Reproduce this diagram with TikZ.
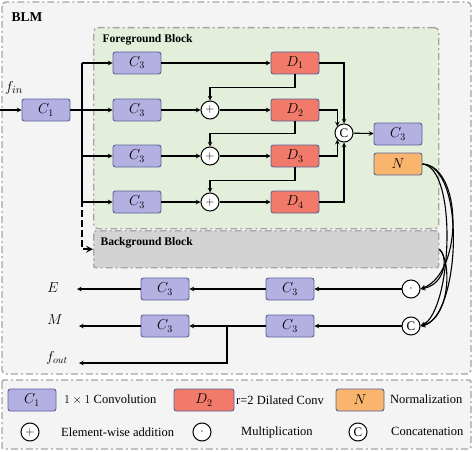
\documentclass[tikz,border=0pt]{standalone}
\usepackage{fontspec}
\setmainfont{Liberation Serif}
\usetikzlibrary{calc}
\definecolor{convfill}{RGB}{180,176,226}
\definecolor{boxline}{RGB}{88,98,150}
\definecolor{dilfill}{RGB}{242,122,106}
\definecolor{normfill}{RGB}{249,180,110}
\definecolor{fgfill}{RGB}{227,239,218}
\definecolor{bgfill}{RGB}{211,211,211}
\definecolor{blmfill}{RGB}{244,244,244}
\definecolor{frame}{RGB}{165,165,165}

\begin{document}
\begin{tikzpicture}[
        x = 1pt, y = -1pt,
        >=stealth,
        block/.style = {draw=boxline, fill=convfill, rounded corners=2.5pt, line width=0.9pt,
            minimum width=48pt, minimum height=22pt, inner sep=0pt, font=\fontsize{14}{16}\selectfont},
        dilated/.style = {block, fill=dilfill},
        normal/.style = {block, fill=normfill},
        oper/.style = {circle, draw, fill=white, line width=1pt, minimum size=18pt, inner sep=0pt,
            font=\fontsize{13}{15}\selectfont},
        flow/.style = {->, line width=1.1pt},
        region/.style = {draw=frame, line width=1.4pt, dash pattern=on 7pt off 3pt on 2pt off 3pt,
            rounded corners=4pt},
        title/.style = {anchor=west, font=\fontsize{11.6}{14}\selectfont\bfseries},
        legtext/.style = {anchor=west, inner sep=0pt, font=\fontsize{12.5}{14}\selectfont},
		]
        \useasboundingbox (0,0) rectangle (474,452);

        % BLM frame and legend frame
        \draw[region, fill=blmfill] (2,2) rectangle (471,374);
        \draw[region, fill=blmfill, rounded corners=2pt] (2,380) rectangle (471,449);
        \node[title, font=\fontsize{13.5}{15}\selectfont\bfseries] (blm) at (8,17) {BLM};

        % Foreground and background blocks
        \node[region, fill=fgfill, anchor=north west, minimum width=345pt, minimum height=201pt] (fg) at (93,27) {};
        \node[title] (fglab) at (99,40) {Foreground Block};
        \node[region, fill=bgfill, rounded corners=2pt, anchor=north west, minimum width=345pt, minimum height=37pt] (bg) at (93,230) {};
        \node[title] (bglab) at (97,243) {Background Block};

        % Input
        \coordinate (in) at (0,110);
        \node[font=\fontsize{15}{17}\selectfont] (finlab) at (14,88) {$f_{in}$};
        \node[block] (c1) at (46,110) {$C_1$};
        \draw[flow] (in) -- (c1);
        \coordinate (split) at (82,110);
        \coordinate (bustop) at (82,63);
        \coordinate (busbot) at (82,202);
        \draw[line width=1.1pt] (c1) -- (split);
        \draw[line width=1.1pt] (bustop) -- (busbot);
        \draw[->, line width=2pt, dash pattern=on 7pt off 3pt] (split) |- (bg.west);

        % Branches
        \node[block] (c31) at (137,63) {$C_3$};
        \node[block] (c32) at (137,110) {$C_3$};
        \node[block] (c33) at (137,156) {$C_3$};
        \node[block] (c34) at (137,202) {$C_3$};
        \node[oper] (p2) at (210,110) {$+$};
        \node[oper] (p3) at (210,156) {$+$};
        \node[oper] (p4) at (210,202) {$+$};
        \node[dilated] (d1) at (295,63) {$D_1$};
        \node[dilated] (d2) at (295,110) {$D_2$};
        \node[dilated] (d3) at (295,156) {$D_3$};
        \node[dilated] (d4) at (295,202) {$D_4$};
        \draw[flow] (bustop) -- (c31);
        \draw[flow] (split) -- (c32);
        \draw[flow] (c33.west -| split) -- (c33);
        \draw[flow] (busbot) -- (c34);
        \draw[flow] (c31) -- (d1);
        \draw[flow] (c32) -- (p2);
        \draw[flow] (c33) -- (p3);
        \draw[flow] (c34) -- (p4);
        \draw[flow] (p2) -- (d2);
        \draw[flow] (p3) -- (d3);
        \draw[flow] (p4) -- (d4);

        % Feedback into the adders
        \draw[flow] (d1.south) -- ++(0,13) -| (p2.north);
        \draw[flow] (d2.south) -- ++(0,12) -| (p3.north);
        \draw[flow] (d3.south) -- ++(0,13) -| (p4.north);

        % Concatenation
        \node[oper] (cc) at (344,133) {C};
        \draw[flow] (d1.east) -| (cc.north);
        \draw[flow] (d2.east) -| (cc.north west);
        \draw[flow] (d3.east) -| (cc.south west);
        \draw[flow] (d4.east) -| (cc.south);
        \node[block] (c3o) at (398,134) {$C_3$};
        \node[normal] (nrm) at (398,164) {$N$};
        \draw[flow] (cc) -- (c3o);

        % Outputs
        \node[oper] (dot) at (411,289) {$\cdot$};
        \node[oper] (cat) at (411,326) {C};
        \node[block] (e2) at (290,289) {$C_3$};
        \node[block] (e1) at (165,289) {$C_3$};
        \node[block] (m2) at (290,326) {$C_3$};
        \node[block] (m1) at (165,326) {$C_3$};
        \coordinate (eout) at (77,289);
        \coordinate (mout) at (79,326);
        \coordinate (fo) at (227,326);
        \coordinate (fout) at (79,363);
        \node[font=\fontsize{14}{16}\selectfont] (elab) at (53,288) {$E$};
        \node[font=\fontsize{14}{16}\selectfont] (mlab) at (55,320) {$M$};
        \node[font=\fontsize{14}{16}\selectfont] (foutlab) at (57,358) {$f_{out}$};
        \draw[flow] (dot) -- (e2);
        \draw[flow] (e2) -- (e1);
        \draw[flow] (e1) -- (eout);
        \draw[flow] (cat) -- (m2);
        \draw[flow] (m2) -- (m1);
        \draw[flow] (m1) -- (mout);
        \draw[flow] (fo) |- (fout);

        % Curves from N and the background block
        \draw[flow] (nrm.east) .. controls (462,166) and (464,272) .. (dot.east);
        \draw[flow] (nrm.east) .. controls (467,166) and (460,318) .. (cat.east);
        \draw[flow] (nrm.east) .. controls (458,168) and (452,310) .. (cat.east);
        \draw[flow] (bg.east) .. controls (448,256) and (446,284) .. (dot.east);
        \draw[flow] (bg.east) .. controls (452,262) and (450,318) .. (cat.east);

        % Legend
        \node[block] (lc1) at (32,400) {$C_1$};
        \node[legtext] (lc1t) at (64,400) {$1\times1$ Convolution};
        \node[dilated, minimum width=60pt] (ld2) at (204,400) {$D_2$};
        \node[legtext] (ld2t) at (236,400) {r=2 Dilated Conv};
        \node[normal] (lnrm) at (360,400) {$N$};
        \node[legtext] (lnrmt) at (390,399) {Normalization};
        \node[oper] (ladd) at (30,432) {$+$};
        \node[legtext] (laddt) at (61,432) {Element-wise addition};
        \node[oper] (lmul) at (202,432) {$\cdot$};
        \node[legtext] (lmult) at (241,432) {Multiplication};
        \node[oper] (lcat) at (358,432) {C};
        \node[legtext] (lcatt) at (391,431) {Concatenation};
    \end{tikzpicture}
\end{document}
